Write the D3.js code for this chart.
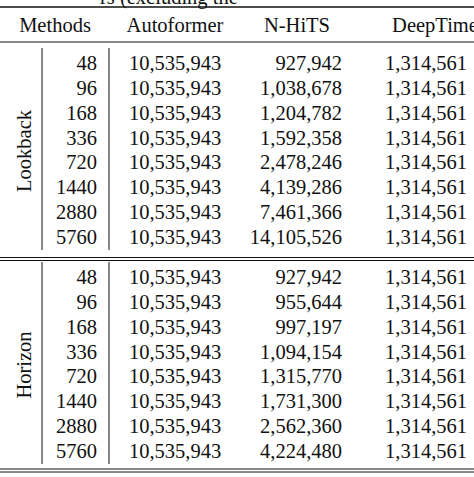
<!DOCTYPE html><html><head><meta charset="utf-8"><script src="https://cdn.jsdelivr.net/npm/d3@7"></script>
<style>body{margin:0;background:#fff}</style></head><body><svg id="c" width="474" height="477"></svg>
<script>
const headers=["Methods","Autoformer","N-HiTS","DeepTime"];
const groups=["Lookback","Horizon"];
const steps=["48","96","168","336","720","1440","2880","5760"];
const autoformer=["10,535,943","10,535,943","10,535,943","10,535,943","10,535,943","10,535,943","10,535,943","10,535,943"];
const nhitsLookback=["927,942","1,038,678","1,204,782","1,592,358","2,478,246","4,139,286","7,461,366","14,105,526"];
const nhitsHorizon=["927,942","955,644","997,197","1,094,154","1,315,770","1,731,300","2,562,360","4,224,480"];
const deeptime=["1,314,561","1,314,561","1,314,561","1,314,561","1,314,561","1,314,561","1,314,561","1,314,561"];
const svg=d3.select("#c");
const F="'Liberation Serif','Times New Roman',serif";
const t=(x,y,s,a="middle",rot)=>{const e=svg.append("text").attr("x",x).attr("y",y).attr("text-anchor",a).attr("font-family",F).attr("font-size",20.5).attr("fill","#111").text(s);if(rot)e.attr("transform",`rotate(-90,${x},${y})`);return e;};
const hl=(y,w)=>svg.append("line").attr("x1",0).attr("x2",474).attr("y1",y).attr("y2",y).attr("stroke","#111").attr("stroke-width",w);
const vl=(x,y1,y2)=>svg.append("line").attr("x1",x).attr("x2",x).attr("y1",y1).attr("y2",y2).attr("stroke","#111").attr("stroke-width",1);
t(100,4,"rs (excluding the","start");
hl(7,1.6);hl(42,1);
t(55,32,headers[0]);t(175,32,headers[1]);t(297,32,headers[2]);t(435,32,headers[3]);
const row=d3.scaleLinear().domain([0,7]).range([0,174]);
const starts=[63,277];
const nh=[nhitsLookback,nhitsHorizon];
starts.forEach((s,g)=>{
  steps.forEach((st,i)=>{const y=s+row(i)+7;
    t(97,y,st,"end");t(175,y,autoformer[i]);t(342,y,nh[g][i],"end");t(467,y,deeptime[i],"end");});
  vl(42,s-15,s+row(7)+13);vl(109,s-15,s+row(7)+13);
  t(31,s+row(3.5)+1,groups[g],"middle",true);
});
hl(257.5,1);hl(260.5,1);hl(469,1);hl(472,1);
</script></body></html>
